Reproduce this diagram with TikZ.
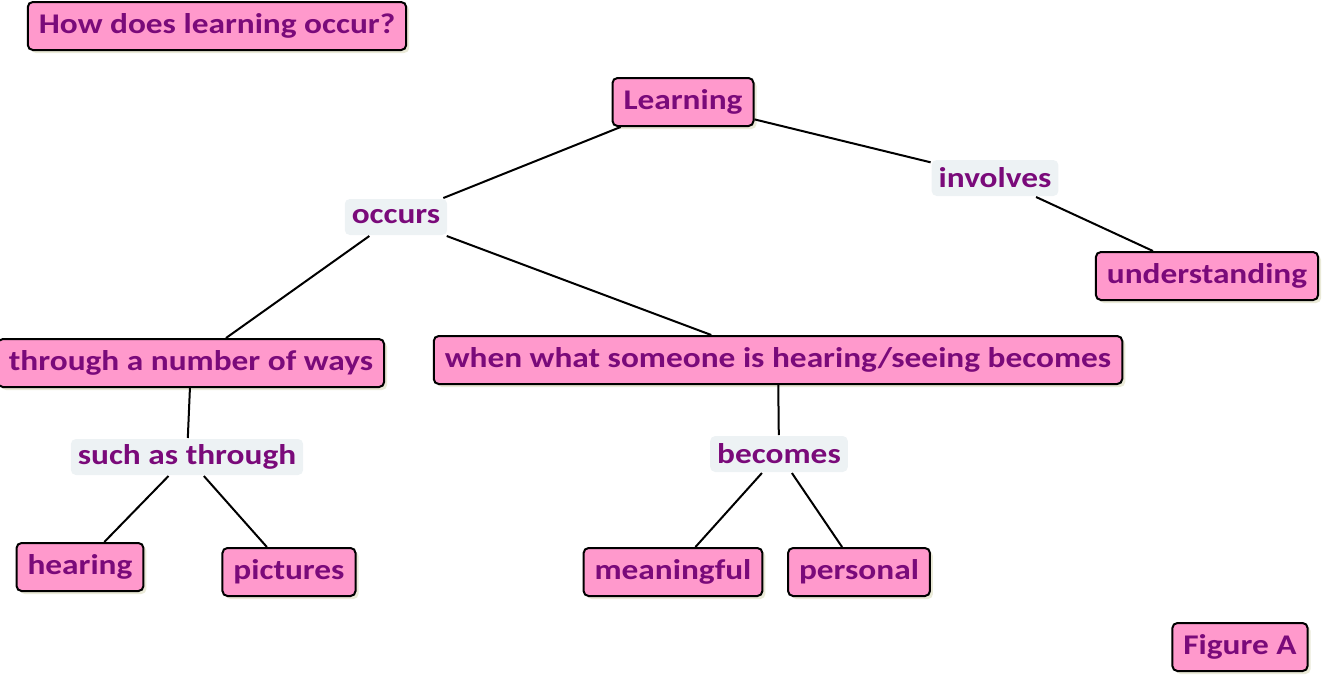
\documentclass[tikz,border=0pt]{standalone}
\usepackage{fontspec}
\setmainfont{Carlito}[FakeStretch=1.17]
\usetikzlibrary{shadows}

\definecolor{conceptpink}{HTML}{FF99CC}
\definecolor{conceptink}{HTML}{7A0A7A}
\definecolor{linkfill}{HTML}{EDF2F4}
\definecolor{shadowtint}{HTML}{EAEAD8}

\begin{document}
\begin{tikzpicture}[x=1pt, y=-1pt,
    concept/.style={draw=black, line width=2pt, fill=conceptpink, rounded corners=5pt,
      text=conceptink, font=\fontsize{28.5}{32}\selectfont\bfseries,
      inner xsep=11pt, minimum height=48pt,
      drop shadow={shadow xshift=3pt, shadow yshift=-3pt, fill=shadowtint, opacity=1}},
    link/.style={fill=linkfill, rounded corners=5pt, text=conceptink,
      font=\fontsize{28.5}{32}\selectfont\bfseries, inner xsep=7pt, minimum height=36pt},
    every path/.style={line width=2pt}]
\useasboundingbox (0,0) rectangle (1323,678);

% ---------- top ----------
\node[concept] (question) at (217,26) {How does learning occur?};
\node[concept] (learning) at (683,102) {Learning};
\node[link] (occurs) at (396,217) {occurs};
\node[link] (involves) at (995,178) {involves};
\node[concept] (understanding) at (1207,276) {understanding};

% ---------- middle ----------
\node[concept] (ways) at (191,363) {through a number of ways};
\node[concept] (when) at (778,360) {when what someone is hearing/seeing becomes};
\node[link] (suchas) at (187,457) {such as through};
\node[link] (becomes) at (779,454) {becomes};

% ---------- bottom ----------
\node[concept] (hearing) at (80,567) {hearing};
\node[concept] (pictures) at (289,572) {pictures};
\node[concept] (meaningful) at (673,572) {meaningful};
\node[concept] (personal) at (859,572) {personal};
\node[concept] (figa) at (1240,647) {Figure A};

% links
\draw (learning) -- (occurs);
\draw (learning) -- (involves);
\draw (involves) -- (understanding);
\draw (occurs) -- (ways);
\draw (occurs) -- (when);
\draw (ways) -- (suchas);
\draw (suchas) -- (hearing);
\draw (suchas) -- (pictures);
\draw (when) -- (becomes);
\draw (becomes) -- (meaningful);
\draw (becomes) -- (personal);

\end{tikzpicture}
\end{document}
